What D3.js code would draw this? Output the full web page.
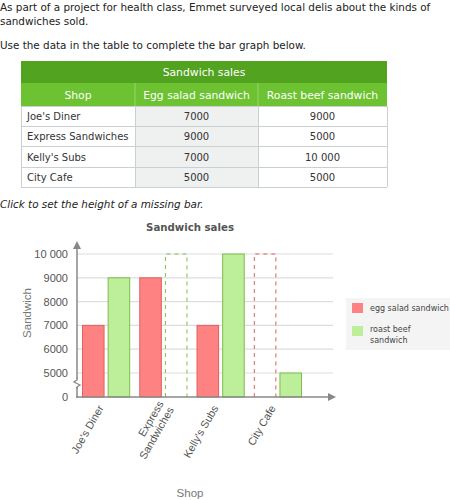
<!DOCTYPE html>
<html>
<head>
<meta charset="utf-8">
<script src="https://cdn.jsdelivr.net/npm/d3@7"></script>
<style>
  html, body { margin: 0; padding: 0; background: #fff; }
  body { width: 450px; height: 500px; overflow: hidden; position: relative; font-family: "DejaVu Sans", Verdana, sans-serif; color: #222; }
  .p { position: absolute; left: 0; font-size: 10.4px; line-height: 14px; margin: 0; white-space: nowrap; }
  svg { position: absolute; left: 0; top: 0; }
</style>
</head>
<body>
<p class="p" style="top:0px">As part of a project for health class, Emmet surveyed local delis about the kinds of<br>sandwiches sold.</p>
<p class="p" style="top:38px">Use the data in the table to complete the bar graph below.</p>
<p class="p" style="top:197px;font-style:italic">Click to set the height of a missing bar.</p>
<svg id="chart" width="450" height="500"></svg>
<script>
const tableTitle = "Sandwich sales";
const columns = ["Shop", "Egg salad sandwich", "Roast beef sandwich"];
const shops = ["Joe's Diner", "Express Sandwiches", "Kelly's Subs", "City Cafe"];
const tableEgg = ["7000", "9000", "7000", "5000"];
const tableBeef = ["9000", "5000", "10 000", "5000"];
const series = ["egg salad sandwich", "roast beef sandwich"];
const eggValues = [7000, 9000, 7000, null];
const beefValues = [9000, null, 10000, 5000];
const yTicks = [0, 5000, 6000, 7000, 8000, 9000, 10000];
const yTickLabels = ["0", "5000", "6000", "7000", "8000", "9000", "10 000"];
const xLabelLines = [["Joe's Diner"], ["Express", "Sandwiches"], ["Kelly's Subs"], ["City Cafe"]];

const svg = d3.select("#chart");

// ---- Table ----
const colX = [21, 135, 258, 387];
const tableTop = 61;
const rowHs = [22, 23, 20, 20, 21, 20];
const rowYs = [tableTop];
rowHs.forEach((h, i) => rowYs.push(rowYs[i] + h));
const tg = svg.append("g");
tg.append("rect").attr("x", colX[0]).attr("y", rowYs[0]).attr("width", colX[3] - colX[0]).attr("height", rowHs[0]).attr("fill", "#52a31f");
tg.append("text").attr("x", (colX[0] + colX[3]) / 2).attr("y", rowYs[0] + rowHs[0] / 2 + 4).attr("text-anchor", "middle")
  .attr("fill", "#fff").style("font-size", "10.8px").text(tableTitle);
tg.append("rect").attr("x", colX[0]).attr("y", rowYs[1]).attr("width", colX[3] - colX[0]).attr("height", rowHs[1]).attr("fill", "#6cc230");
columns.forEach((c, i) => {
  tg.append("text").attr("x", (colX[i] + colX[i + 1]) / 2).attr("y", rowYs[1] + rowHs[1] / 2 + 4).attr("text-anchor", "middle")
    .attr("fill", "#fff").style("font-size", "10.8px").text(c);
});
[colX[1], colX[2]].forEach(x => tg.append("line").attr("x1", x).attr("x2", x).attr("y1", rowYs[1]).attr("y2", rowYs[2]).attr("stroke", "#9ad672").attr("stroke-width", 1));
shops.forEach((s, r) => {
  const y = rowYs[r + 2], h = rowHs[r + 2];
  tg.append("rect").attr("x", colX[1]).attr("y", y).attr("width", colX[2] - colX[1]).attr("height", h).attr("fill", "#eff0f0");
  tg.append("text").attr("x", colX[0] + 6).attr("y", y + h / 2 + 4).attr("fill", "#333").style("font-size", "10px").text(s);
  tg.append("text").attr("x", (colX[1] + colX[2]) / 2).attr("y", y + h / 2 + 4).attr("text-anchor", "middle").attr("fill", "#333").style("font-size", "10px").text(tableEgg[r]);
  tg.append("text").attr("x", (colX[2] + colX[3]) / 2).attr("y", y + h / 2 + 4).attr("text-anchor", "middle").attr("fill", "#333").style("font-size", "10px").text(tableBeef[r]);
});
for (let r = 2; r <= 6; r++) {
  tg.append("line").attr("x1", colX[0]).attr("x2", colX[3]).attr("y1", rowYs[r] + 0.5).attr("y2", rowYs[r] + 0.5).attr("stroke", "#c9d0d3");
}
colX.forEach(x => tg.append("line").attr("x1", x + 0.5).attr("x2", x + 0.5).attr("y1", rowYs[2]).attr("y2", rowYs[6]).attr("stroke", "#c9d0d3"));

// ---- Chart ----
const axisX = 77, plotRight = 333, yZero = 397;
const y = d3.scaleLinear().domain([0, 5000, 10000]).range([yZero, 373, 254]);
const x0 = d3.scaleBand().domain(shops).range([77, 307]).paddingInner(0.158).paddingOuter(0.087);
const x1 = d3.scaleBand().domain(series).range([0, x0.bandwidth()]).paddingInner(0.12);
const colors = { fill: ["#ff8282", "#bdee99"], stroke: ["#e0605f", "#7cbd4c"] };

const cg = svg.append("g");
cg.append("text").attr("x", 190).attr("y", 231).attr("text-anchor", "middle").attr("fill", "#555")
  .style("font-size", "10.2px").style("font-weight", "bold").text("Sandwich sales");

yTicks.filter(t => t >= 5000).forEach(t => {
  cg.append("line").attr("x1", axisX).attr("x2", plotRight).attr("y1", y(t)).attr("y2", y(t)).attr("stroke", "#ddd").attr("stroke-width", 1.2);
});
yTicks.forEach((t, i) => {
  cg.append("text").attr("x", 68).attr("y", y(t) + 4).attr("text-anchor", "end").attr("fill", "#555")
    .style("font-family", "'Liberation Sans', Arial, sans-serif").style("font-size", "11px").text(yTickLabels[i]);
});
cg.append("text").attr("transform", "translate(31,313) rotate(-90)").attr("text-anchor", "middle").attr("fill", "#777")
  .style("font-family", "'Liberation Sans', Arial, sans-serif").style("font-size", "11.5px").text("Sandwich");

const allVals = [eggValues, beefValues];
shops.forEach((s, i) => {
  series.forEach((se, k) => {
    const v = allVals[k][i];
    const bx = x0(s) + x1(se), bw = x1.bandwidth();
    if (v != null) {
      cg.append("rect").attr("x", bx + 0.5).attr("y", y(v)).attr("width", bw - 1).attr("height", yZero - y(v))
        .attr("fill", colors.fill[k]).attr("stroke", colors.stroke[k]).attr("stroke-width", 1);
    } else {
      const top = y(yTicks[yTicks.length - 1]);
      cg.append("path").attr("d", `M${bx + 0.5},${yZero} V${top} H${bx + bw - 0.5} V${yZero}`)
        .attr("fill", "none").attr("stroke", colors.stroke[k]).attr("stroke-width", 1).attr("stroke-dasharray", "4,4");
    }
  });
});

const axisColor = "#888";
cg.append("line").attr("x1", axisX).attr("x2", axisX).attr("y1", yZero + 1).attr("y2", 248).attr("stroke", axisColor).attr("stroke-width", 1.5);
cg.append("path").attr("d", `M${axisX - 4},${249} L${axisX},${241} L${axisX + 4},${249} Z`).attr("fill", axisColor);
cg.append("line").attr("x1", axisX - 1).attr("x2", plotRight - 4).attr("y1", yZero).attr("y2", yZero).attr("stroke", axisColor).attr("stroke-width", 1.5);
cg.append("path").attr("d", `M${plotRight - 5},${yZero - 4} L${plotRight + 3},${yZero} L${plotRight - 5},${yZero + 4} Z`).attr("fill", axisColor);
cg.append("rect").attr("x", axisX - 3).attr("y", 379).attr("width", 6).attr("height", 8).attr("fill", "#fff");
cg.append("path").attr("d", `M${axisX},378 L${axisX},380 L${axisX - 3},382 L${axisX + 3},385 L${axisX},387 L${axisX},389`)
  .attr("fill", "none").attr("stroke", axisColor).attr("stroke-width", 1.3);

shops.forEach((s, i) => {
  const cx = x0(s) + x0.bandwidth() / 2;
  const lines = xLabelLines[i];
  const t = cg.append("text").attr("transform", `translate(${cx - 2},${408}) rotate(-60)`).attr("text-anchor", "end").attr("fill", "#555")
    .style("font-family", "'Liberation Sans', Arial, sans-serif").style("font-size", "10.8px");
  lines.forEach((ln, j) => t.append("tspan").attr("x", lines.length > 1 ? 5 : 0).attr("dy", j === 0 ? 0 : 12).text(ln));
});
cg.append("text").attr("x", 190).attr("y", 497).attr("text-anchor", "middle").attr("fill", "#777")
  .style("font-family", "'Liberation Sans', Arial, sans-serif").style("font-size", "11.5px").text("Shop");

const lg = svg.append("g");
lg.append("rect").attr("x", 346).attr("y", 298).attr("width", 104).attr("height", 52).attr("fill", "#f4f4f4");
const legendLines = [["egg salad sandwich"], ["roast beef", "sandwich"]];
series.forEach((se, k) => {
  const sy = k === 0 ? 303 : 326;
  lg.append("rect").attr("x", 352).attr("y", sy).attr("width", 11).attr("height", 10).attr("fill", colors.fill[k]);
  const t = lg.append("text").attr("fill", "#444").style("font-size", "8px");
  legendLines[k].forEach((ln, j) => t.append("tspan").attr("x", 370).attr("y", sy + 8 + j * 11 - (k === 1 ? 2 : 0)).text(ln));
});
</script>
</body>
</html>
